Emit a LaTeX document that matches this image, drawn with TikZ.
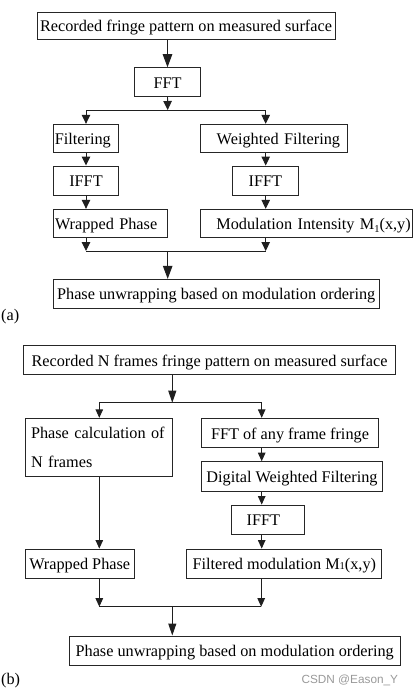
\documentclass[tikz,border=0pt]{standalone}
\usepackage{fontspec}
\setmainfont{Liberation Serif}
\newfontfamily\wmfont{Liberation Sans}
\usetikzlibrary{arrows.meta}
\begin{document}
\begin{tikzpicture}[x=1pt,y=-1pt,
  every node/.style={font=\fontsize{16.25}{19.5}\selectfont, text=black},
  box/.style={draw=black!85, line width=0.95pt, inner ysep=0pt, inner xsep=1.5pt,
    text height=13pt, text depth=1pt},
  conn/.style={draw=black!88, line width=0.95pt},
  arrA/.style={conn, -{Triangle[length=9pt,width=8.5pt]}},
  bigA/.style={conn, -{Triangle[length=13pt,width=9.5pt]}},
  arrB/.style={conn, -{Triangle[length=8.5pt,width=7.5pt]}},
  bigB/.style={conn, -{Triangle[length=12pt,width=8pt]}},
  lab/.style={anchor=west, inner sep=0pt}
]
\useasboundingbox (0,0) rectangle (414,694);

% ---------- (a) ----------
\node[box, minimum width=298pt, minimum height=27.3pt] (a1) at (186,25.7) {Recorded fringe pattern on measured surface};
\node[box, minimum width=65.6pt, minimum height=28.6pt] (fft) at (167.5,82) {FFT};
\node[box, minimum width=65.4pt, minimum height=28.4pt, text width=62.4pt, align=left] (filt) at (86,138.5) {Filtering};
\node[box, minimum width=147.7pt, minimum height=28.4pt, inner xsep=7.7pt, text width=132.3pt, align=right] (wfilt) at (273.85,138.5) {Weighted Filtering};
\node[box, minimum width=65.4pt, minimum height=29pt] (ifftL) at (86,180.5) {IFFT};
\node[box, minimum width=66pt, minimum height=29pt] (ifftR) at (265.3,180.5) {IFFT};
\node[box, minimum width=114pt, minimum height=28.4pt, inner xsep=1.7pt, text width=110.6pt, align=left] (wpA) at (110.3,223.5) {Wrapped Phase};
\node[box, minimum width=212.3pt, minimum height=28.4pt, inner xsep=1.6pt, text width=209.1pt, align=right] (modA) at (306.2,223.5) {Modulation Intensity M\raisebox{-2.5pt}{\fontsize{10.5}{10.5}\selectfont 1}(x,y)};
\node[box, minimum width=325.7pt, minimum height=29pt] (puA) at (216.2,293.8) {Phase unwrapping based on modulation ordering};
\node[lab] (labA) at (1,316.7) {(a)};

\coordinate (jA) at (167.7,110);
\coordinate (jAL) at (86,110);
\coordinate (jAR) at (265.7,110);
\coordinate (kA) at (167.7,251);
\coordinate (kAL) at (86,251);
\coordinate (kAR) at (265.7,251);

\draw[bigA] (fft |- a1.south) -- (fft.north);
\draw[arrA] (fft.south) -- (jA);
\draw[conn] (jAL) -- (jAR);
\draw[arrA] (jAL) -- (jAL |- filt.north);
\draw[arrA] (jAR) -- (jAR |- wfilt.north);
\draw[arrA] (filt.south) -- (ifftL.north);
\draw[arrA] (jAR |- wfilt.south) -- (jAR |- ifftR.north);
\draw[arrA] (ifftL.south) -- (ifftL.south |- wpA.north);
\draw[arrA] (jAR |- ifftR.south) -- (jAR |- modA.north);
\draw[arrA] (kAL |- wpA.south) -- (kAL);
\draw[arrA] (kAR |- modA.south) -- (kAR);
\draw[conn] (kAL) -- (kAR);
\draw[bigA] (kA) -- (kA |- puA.north);

% ---------- (b) ----------
\node[box, minimum width=372.4pt, minimum height=29.3pt] (b1) at (209.5,360.3) {Recorded N frames fringe pattern on measured surface};
\node[box, minimum width=147.4pt, minimum height=58.4pt, inner xsep=5.7pt, text width=136pt, align=left, text height=, text depth=, font=\fontsize{16.25}{29}\selectfont] (pcB) at (99,447.5) {Phase calculation of\\N frames};
\node[box, minimum width=176.6pt, minimum height=29.4pt] (fftB) at (290,433) {FFT of any frame fringe};
\node[box, minimum width=180.6pt, minimum height=30pt] (dwf) at (292,476.7) {Digital Weighted Filtering};
\node[box, minimum width=72.6pt, minimum height=29.3pt, inner xsep=15pt, text width=42.6pt, align=left] (ifftB) at (268,519.7) {IFFT};
\node[box, minimum width=108.7pt, minimum height=29.3pt] (wpB) at (79.7,563.7) {Wrapped Phase};
\node[box, minimum width=194.7pt, minimum height=29.3pt] (fmB) at (284.3,563.7) {Filtered modulation M{\fontsize{10.5}{10.5}\selectfont 1}(x,y)};
\node[box, minimum width=330.7pt, minimum height=29pt] (puB) at (234.7,650.5) {Phase unwrapping based on modulation ordering};
\node[lab] (labB) at (1,680.7) {(b)};
\node[anchor=east, inner sep=0pt, font=\wmfont\fontsize{11.8}{13}\selectfont, text=black!40] (wm) at (398.3,680) {CSDN @Eason\_Y};

\coordinate (jB) at (172.3,402.7);
\coordinate (jBL) at (99.3,402.7);
\coordinate (jBR) at (261.7,402.7);
\coordinate (kB) at (172.3,606.7);
\coordinate (kBL) at (99.3,606.7);
\coordinate (kBR) at (261.2,606.7);

\draw[bigB] (jB |- b1.south) -- (jB);
\draw[conn] (jBL) -- (jBR);
\draw[arrB] (jBL) -- (jBL |- pcB.north);
\draw[arrB] (jBR) -- (jBR |- fftB.north);
\draw[arrB] (jBR |- fftB.south) -- (jBR |- dwf.north);
\draw[arrB] (jBR |- dwf.south) -- (jBR |- ifftB.north);
\draw[arrB] (jBR |- ifftB.south) -- (jBR |- fmB.north);
\draw[arrB] (jBL |- pcB.south) -- (jBL |- wpB.north);
\draw[arrB] (kBL |- wpB.south) -- (kBL);
\draw[arrB] (kBR |- fmB.south) -- (kBR);
\draw[conn] (kBL) -- (kBR);
\draw[bigB] (kB) -- (kB |- puB.north);
\end{tikzpicture}
\end{document}
